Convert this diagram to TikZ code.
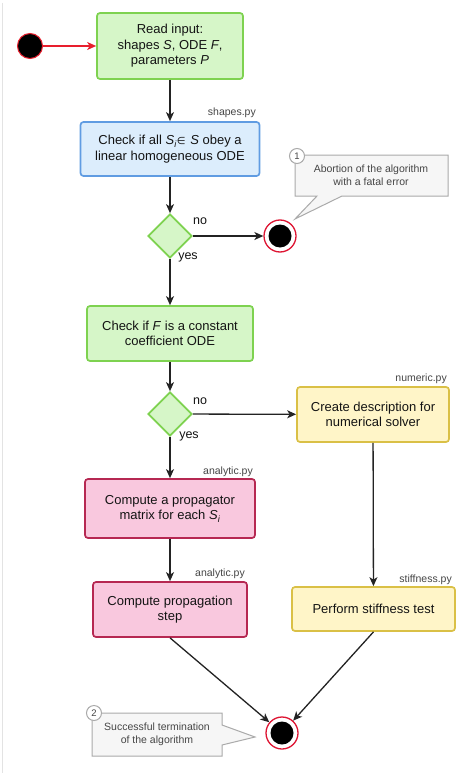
\documentclass[tikz,border=0pt]{standalone}
\usepackage{fontspec}
\setmainfont{Liberation Sans}
\newfontfamily\symfont{DejaVu Sans}
\usetikzlibrary{shapes.geometric,arrows.meta}
\definecolor{grfill}{RGB}{214,246,200}
\definecolor{grdraw}{RGB}{126,210,80}
\definecolor{blfill}{RGB}{220,237,252}
\definecolor{bldraw}{RGB}{96,156,226}
\definecolor{pkfill}{RGB}{249,200,222}
\definecolor{pkdraw}{RGB}{182,40,82}
\definecolor{ylfill}{RGB}{255,245,200}
\definecolor{yldraw}{RGB}{218,192,70}
\definecolor{cofill}{RGB}{246,246,246}
\definecolor{codraw}{RGB}{170,170,170}
\definecolor{cotext}{RGB}{70,70,70}
\definecolor{txt}{RGB}{20,20,20}
\definecolor{arr}{RGB}{35,35,35}
\definecolor{startred}{RGB}{232,30,45}
\definecolor{ringred}{RGB}{222,20,50}
\begin{document}
\begin{tikzpicture}[x=1pt,y=-1pt,
  box/.style={draw, line width=1.7pt, rounded corners=3pt, align=center, inner sep=0pt,
    font=\fontsize{13}{15.5}\selectfont, text=txt},
  green/.style={box, draw=grdraw, fill=grfill},
  blue/.style={box, draw=bldraw, fill=blfill},
  pink/.style={box, draw=pkdraw, fill=pkfill},
  yellow/.style={box, draw=yldraw, fill=ylfill},
  decision/.style={diamond, aspect=1, draw=grdraw, fill=grfill, line width=1.7pt,
    minimum width=44pt, minimum height=44pt, inner sep=0pt},
  endring/.style={circle, draw=ringred, line width=1.3pt, fill=white, minimum size=32pt, inner sep=0pt},
  filelabel/.style={font=\fontsize{10.5}{12}\selectfont, text=cotext, anchor=base east, inner sep=0pt},
  branch/.style={font=\fontsize{12.5}{14}\selectfont, text=txt, inner sep=0pt},
  flow/.style={draw=arr, line width=1.3pt, -{Stealth[length=9pt,width=8pt,inset=2.5pt]}},
  cotxt/.style={font=\fontsize{10.5}{13}\selectfont, text=cotext, align=center, inner sep=0pt},
  numcirc/.style={circle, draw=codraw, fill=white, line width=1pt, minimum size=15pt, inner sep=0pt,
    font=\fontsize{9.5}{10}\selectfont, text=cotext}
]
\useasboundingbox[fill=white] (0,0) rectangle (474,773);
\draw[gray!22, line width=1pt] (2,3) -- (2,773);

% nodes
\node[circle, fill=black, draw=startred, line width=1pt, minimum size=25pt, inner sep=0pt] (start) at (30,46) {};
\node[green, minimum width=146pt, minimum height=66pt] (read) at (170,46)
  {Read input:\\shapes \textit{S}, ODE \textit{F},\\parameters \textit{P}};
\node[blue, minimum width=179pt, minimum height=54pt] (check1) at (170,149)
  {Check if all \textit{S}\textsubscript{\textit{i}}{\symfont\fontsize{10}{13}\selectfont ∈}\kern1pt\ \textit{S} obey a\\linear homogeneous ODE};
\node[filelabel] (lab1) at (256,116) {shapes.py};
\node[decision] (dia1) at (170,236) {};
\node[endring] (end1) at (280,236) {};
\fill[black] (end1.center) circle (11.5pt);

\node[green, minimum width=166pt, minimum height=55pt] (check2) at (170,333.5)
  {Check if \textit{F} is a constant\\coefficient ODE};
\node[decision] (dia2) at (170,414) {};
\node[yellow, minimum width=152pt, minimum height=55pt] (numer) at (373,414.5)
  {Create description for\\numerical solver};
\node[filelabel] (lab2) at (447,381) {numeric.py};
\node[pink, minimum width=170pt, minimum height=59pt] (prop) at (170,508.5)
  {Compute a propagator\\matrix for each \textit{S}\textsubscript{\textit{i}}};
\node[filelabel] (lab3) at (253,474) {analytic.py};
\node[pink, minimum width=154pt, minimum height=55pt] (step) at (170,609.5)
  {Compute propagation\\step};
\node[filelabel] (lab4) at (245,576) {analytic.py};
\node[yellow, minimum width=163pt, minimum height=44pt] (stiff) at (373.5,609)
  {Perform stiffness test};
\node[filelabel] (lab5) at (452,582) {stiffness.py};
\node[endring] (end2) at (282,733) {};
\fill[black] (end2.center) circle (11.5pt);

% callout 1
\draw[draw=codraw, fill=cofill, line width=1pt]
  (295,155) -- (448,155) -- (448,196) -- (342,196) -- (295,219) -- (317,196) -- (295,196) -- cycle;
\node[cotxt] (co1) at (371,175.5) {Abortion of the algorithm\\with a fatal error};
\node[numcirc] (n1) at (297,156) {1};

% callout 2
\draw[draw=codraw, fill=cofill, line width=1pt]
  (92,713) -- (222,713) -- (222,725) -- (255,737) -- (222,745) -- (222,756) -- (92,756) -- cycle;
\node[cotxt] (co2) at (157,734.5) {Successful termination\\of the algorithm};
\node[numcirc] (n2) at (94,713) {2};

% connectors
\draw[draw=startred, line width=1.3pt, -{Stealth[length=9pt,width=8pt,inset=2.5pt]}] (start) -- (read);
\draw[flow] (read) -- (check1);
\draw[flow] (check1) -- (dia1);
\draw[flow] (dia1) -- (end1);
\draw[flow] (dia1) -- (check2);
\draw[flow] (check2) -- (dia2);
\draw[flow] (dia2) -- (numer);
\draw[flow] (dia2) -- (prop);
\draw[flow] (numer) -- (stiff);
\draw[flow] (prop) -- (step);
\draw[flow] (step.south) -- (end2);
\draw[flow] (stiff.south) -- (end2);

% branch labels
\node[branch] (no1) at (200,221) {no};
\node[branch] (yes1) at (188,257) {yes};
\node[branch] (no2) at (200,401) {no};
\node[branch] (yes2) at (189,436) {yes};
\end{tikzpicture}
\end{document}
